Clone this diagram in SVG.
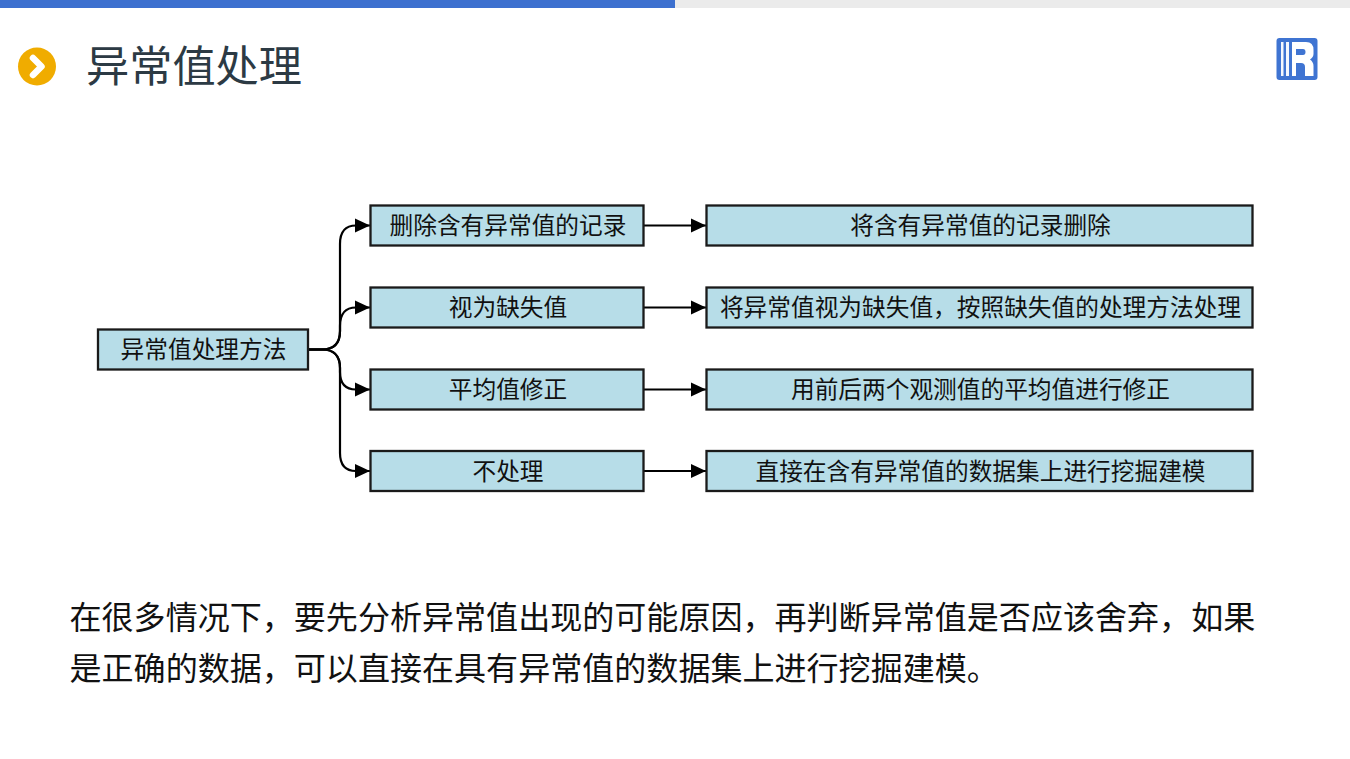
<svg xmlns="http://www.w3.org/2000/svg" width="1350" height="759" viewBox="0 0 1350 759">
<style>
text{font-family:"Noto Sans CJK SC","Microsoft YaHei",sans-serif;}
.box{fill:#b7dde8;stroke:#1a1a1a;stroke-width:2.300;}
.lb{font-size:23.700px;fill:#111;text-anchor:middle;}
.c{fill:none;stroke:#000;stroke-width:2.200;marker-end:url(#a);}
.body{font-size:32.050px;fill:#111;}
</style>
<defs><marker id="a" markerUnits="userSpaceOnUse" markerWidth="15" markerHeight="15" refX="15" refY="7.500" orient="auto"><path d="M0 0.500L15 7.500L0 14.500Z" fill="#000"/></marker></defs>
<rect x="0" y="0" width="1350" height="759" fill="#fff"/>
<rect x="0" y="0" width="1350" height="8" fill="#ebebeb"/>
<rect x="0" y="0" width="675" height="8" fill="#3d70cf"/>
<g id="bullet"><circle cx="37" cy="66.500" r="19" fill="#f0ac00"/><path d="M33 58L41.500 66.500L33 75" fill="none" stroke="#fff" stroke-width="6.500" stroke-linecap="round" stroke-linejoin="round"/></g>
<text x="86" y="81.500" font-size="43.200" fill="#2c3a44">异常值处理</text>
<g id="logo"><rect x="1276.500" y="38" width="41" height="42" rx="3" fill="#3f74d2"/>
<path d="M1281 42H1283.500V76H1281ZM1286 42H1289V76H1286Z" fill="#f4f7fd"/>
<path fill-rule="evenodd" d="M1292 42H1306Q1313.500 42 1313.500 50V54Q1313.500 57 1310 59.500Q1313.500 62 1313.500 66V76H1305V67Q1305 63 1301 63H1296V76H1292ZM1296 49V55H1303Q1305.500 55 1305.500 52Q1305.500 49 1303 49Z" fill="#fff"/></g>
<g id="connectors">
<path class="c" d="M308 349.500H322Q340 349.500 340 331V244Q340 225.500 356 225.500H370"/>
<path class="c" d="M308 349.500H322Q340 349.500 340 331V326Q340 307.500 356 307.500H370"/>
<path class="c" d="M308 349.500H322Q340 349.500 340 368V372Q340 389.500 356 389.500H370"/>
<path class="c" d="M308 349.500H322Q340 349.500 340 368V453Q340 471 356 471H370"/>
<path class="c" d="M644 225.500H706"/>
<path class="c" d="M644 307.500H706"/>
<path class="c" d="M644 389.500H706"/>
<path class="c" d="M644 471H706"/>
</g>
<g id="n0"><rect class="box" x="98" y="329.500" width="210" height="40"/><text class="lb" x="203.500" y="358">异常值处理方法</text></g>
<g id="n1"><rect class="box" x="370.500" y="205.500" width="273" height="40"/><text class="lb" x="508" y="234">删除含有异常值的记录</text></g>
<g id="n2"><rect class="box" x="370.500" y="287.500" width="273" height="40"/><text class="lb" x="508" y="316">视为缺失值</text></g>
<g id="n3"><rect class="box" x="370.500" y="369.500" width="273" height="40"/><text class="lb" x="508" y="398">平均值修正</text></g>
<g id="n4"><rect class="box" x="370.500" y="451" width="273" height="40"/><text class="lb" x="508" y="480">不处理</text></g>
<g id="n5"><rect class="box" x="706.500" y="205.500" width="546" height="40"/><text class="lb" x="980.500" y="234">将含有异常值的记录删除</text></g>
<g id="n6"><rect class="box" x="706.500" y="287.500" width="546" height="40"/><text class="lb" x="980.500" y="316">将异常值视为缺失值，按照缺失值的处理方法处理</text></g>
<g id="n7"><rect class="box" x="706.500" y="369.500" width="546" height="40"/><text class="lb" x="980.500" y="398">用前后两个观测值的平均值进行修正</text></g>
<g id="n8"><rect class="box" x="706.500" y="451" width="546" height="40"/><text class="lb" x="980.500" y="480">直接在含有异常值的数据集上进行挖掘建模</text></g>
<text class="body" x="69.500" y="629">在很多情况下，要先分析异常值出现的可能原因，再判断异常值是否应该舍弃，如果</text>
<text class="body" x="69.500" y="679.500">是正确的数据，可以直接在具有异常值的数据集上进行挖掘建模。</text>
</svg>
